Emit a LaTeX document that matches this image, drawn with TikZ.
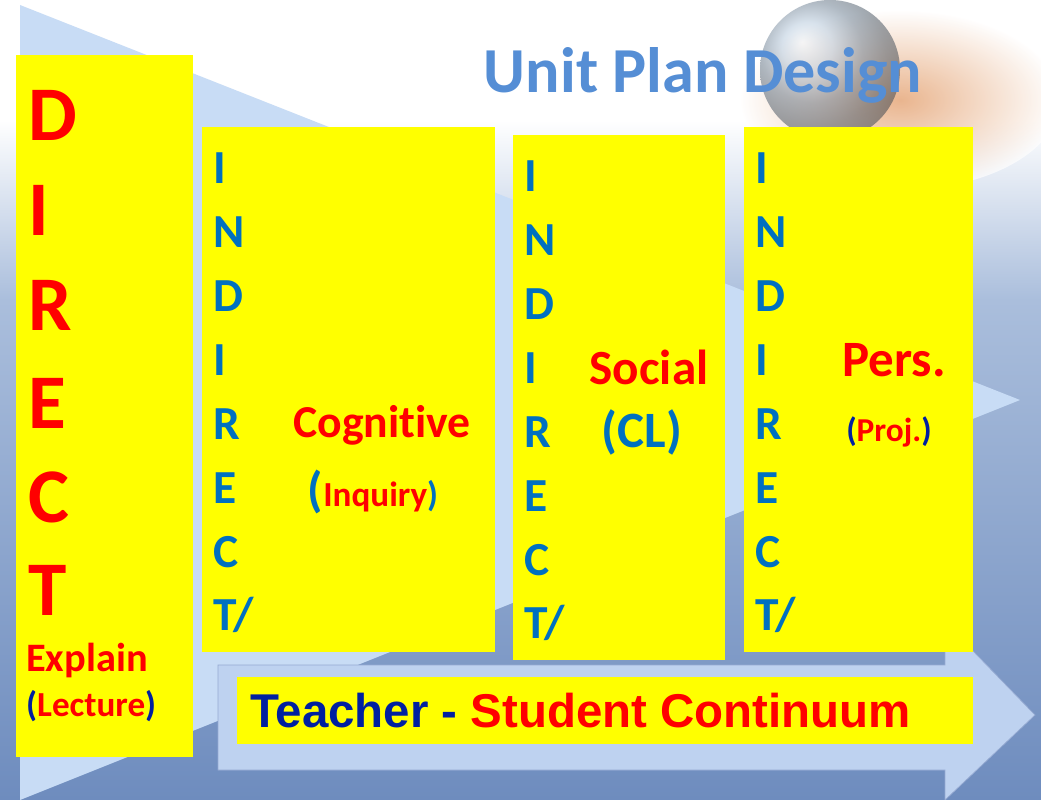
\documentclass[tikz,border=0pt]{standalone}
\usepackage{fontspec}
\setmainfont[Ligatures=NoCommon]{Carlito}
\newfontfamily\arialf{Liberation Sans}
\definecolor{ybox}{RGB}{255,255,0}
\definecolor{rd}{RGB}{255,0,0}
\definecolor{bl}{RGB}{0,112,192}
\definecolor{dbl}{RGB}{0,32,160}
\definecolor{ttl}{RGB}{85,142,213}
\definecolor{bgmid}{RGB}{170,190,220}
\definecolor{bgdark}{RGB}{110,140,190}
\definecolor{tri}{RGB}{200,220,245}
\definecolor{orng}{RGB}{225,150,95}
\definecolor{globe}{RGB}{160,185,210}
\definecolor{arrf}{RGB}{190,210,240}
\definecolor{arrd}{RGB}{150,170,210}
\def\tsl{T/}
\begin{document}
\begin{tikzpicture}[x=0.02cm,y=-0.02cm,
  big/.style={font=\fontsize{44}{44}\bfseries\selectfont,text=rd},
  ind/.style={font=\fontsize{27}{27}\bfseries\selectfont,text=bl,anchor=west},
  lab/.style={font=\fontsize{26}{26}\bfseries\selectfont,text=rd}]
\useasboundingbox (0,0) rectangle (1041,800);
\fill[white] (0,0) rectangle (1041,800);
\shade[top color=white,bottom color=bgmid] (0,120) rectangle (1041,300);
\shade[top color=bgmid,bottom color=bgdark] (0,300) rectangle (1041,800);
\fill[tri] (20,5) -- (1020,400) -- (20,800) -- cycle;
\shade[inner color=orng,outer color=white,opacity=0.7] (900,100) ellipse (160 and 90);
\shade[ball color=globe,opacity=0.55] (830,70) circle (70);
\node[font=\fontsize{36.5}{36.5}\bfseries\selectfont,text=ttl] (title) at (703,75) {Unit Plan Design};
% arrow
\fill[arrf,draw=arrd]
 (218,665) -- (945,665) -- (945,622) -- (1035,715) -- (945,800) -- (945,770) -- (218,770) -- cycle;
\fill[ybox] (237,677) rectangle (973,744);
\node[font=\arialf\fontsize{27}{27}\bfseries\selectfont,anchor=west] (tsc) at (244,711)
 {\textcolor{dbl}{Teacher -} \textcolor{rd}{Student Continuum}};
% boxes
\fill[ybox] (16,55) rectangle (193,757);
\fill[ybox] (202,127) rectangle (495,652);
\fill[ybox] (513,135) rectangle (725,660);
\fill[ybox] (744,127) rectangle (973,652);
\foreach \l/\y [count=\i] in {D/115,I/210,R/305,E/403,C/497,T/590}
  \node[big,anchor=west] (d\i) at (22,\y) {\l};
\node[lab,anchor=west,font=\fontsize{23}{23}\bfseries\selectfont] (ex) at (20,660) {Explain};
\node[anchor=west,font=\fontsize{20}{20}\bfseries\selectfont] (lec) at (20,706) {\textcolor{dbl}{(}\textcolor{rd}{Lecture}\textcolor{dbl}{)}};
\foreach \l/\y [count=\i] in {I/168,N/232,D/296,I/360,R/424,E/488,C/552,\tsl/615}
  \node[ind] (a\i) at (207,\y) {\l};
\foreach \l/\y [count=\i] in {I/176,N/240,D/304,I/368,R/432,E/496,C/560,\tsl/623}
  \node[ind] (b\i) at (518,\y) {\l};
\foreach \l/\y [count=\i] in {I/168,N/232,D/296,I/360,R/424,E/488,C/552,\tsl/615}
  \node[ind] (c\i) at (749,\y) {\l};
\node[lab] (cog) at (382,425) {Cognitive};
\node[font=\fontsize{20}{20}\bfseries\selectfont] (inq) at (373,492) {\textcolor{bl}{\fontsize{28}{28}\selectfont(}\textcolor{rd}{Inquiry}\textcolor{bl}{)}};
\node[lab,font=\fontsize{28}{28}\bfseries\selectfont] (soc) at (649,367) {Social};
\node[font=\fontsize{29}{29}\bfseries\selectfont,text=bl] (cl) at (642,432) {(CL)};
\node[lab,font=\fontsize{29}{29}\bfseries\selectfont] (pers) at (894,360) {Pers.};
\node[font=\fontsize{19}{19}\bfseries\selectfont] (proj) at (889,432) {\textcolor{dbl}{(}\textcolor{rd}{Proj.}\textcolor{dbl}{)}};
\end{tikzpicture}
\end{document}
